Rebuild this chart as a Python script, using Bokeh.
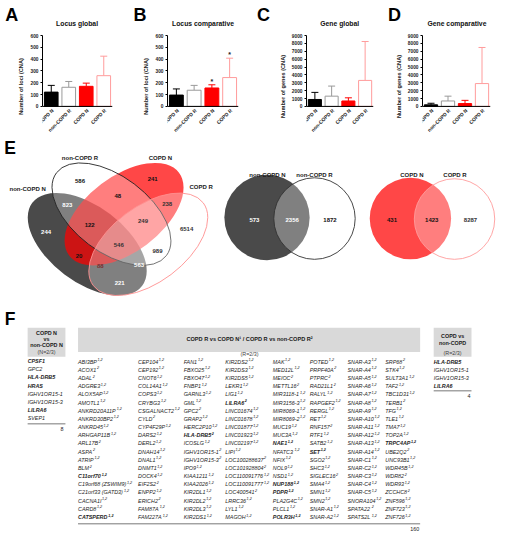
import math
from bokeh.plotting import figure
from bokeh.models import ColumnDataSource, FactorRange, Range1d, FixedTicker, Span
from bokeh.layouts import column, row
from bokeh.core.properties import value, field
from bokeh.embed import file_html
from bokeh.resources import INLINE

FONT = "Liberation Sans"

# ---------------- data: bar panels ----------------
groups = ["non-COPD N", "non-COPD R", "COPD N", "COPD R"]
bar_fill = ["#000000", "#ffffff", "#ff0000", "#ffffff"]
bar_line = ["#000000", "#9a9a9a", "#ff0000", "#ff9c9c"]

panel_letters = ["A", "B", "C", "D"]
panel_titles = ["Locus global", "Locus comparative", "Gene global", "Gene comparative"]

locus_global_mean = [121, 162, 170, 260]
locus_global_upper = [178, 211, 197, 425]
locus_comp_mean = [96, 137, 156, 244]
locus_comp_upper = [148, 178, 183, 408]
locus_comp_star = ["", "", "*", "*"]
gene_global_mean = [880, 1300, 690, 3300]
gene_global_upper = [1780, 2580, 1090, 8240]
gene_comp_mean = [200, 690, 360, 2900]
gene_comp_upper = [400, 1300, 770, 7480]

locus_ticks = [0, 100, 200, 300, 400, 500, 600]
gene_ticks = [0, 1000, 2000, 3000, 4000, 5000, 6000, 7000, 8000, 9000]

# ---------------- data: Venn diagrams ----------------
venn4_sets = ["non-COPD N", "non-COPD R", "COPD N", "COPD R"]
venn4_counts = [244, 586, 241, 6514, 823, 48, 238, 122, 249, 546, 20, 989, 88, 563, 221]
venn_non_sets = ["non-COPD N", "non-COPD R"]
venn_non_counts = [573, 2356, 1872]
venn_copd_sets = ["COPD N", "COPD R"]
venn_copd_counts = [431, 1423, 8287]

# ---------------- data: gene table ----------------
left_title = ["COPD N", "vs", "non-COPD N", "(N=2/3)"]
left_genes = ["CPSF1", "GPC2", "HLA-DRB5", "HRAS", "IGHV1OR15-1", "IGHV1OR15-3", "LILRA6", "SVEP1"]
left_total = "8"
mid_title = ["COPD R vs COPD N\u00b9 / COPD R vs non-COPD R\u00b2", "(R=2/3)"]
mid_total = "160"
right_title = ["COPD vs", "non-COPD", "(R=2/3)"]
right_genes = ["HLA-DRB5", "IGHV1OR15-1", "IGHV1OR15-3", "LILRA6"]
right_total = "4"
bold_genes = ["CPSF1", "HRAS", "HLA-DRB5", "LILRA6", "C11orf70", "CATSPERD", "NAE1",
              "NUP188", "PDPR", "POLR3H", "SET", "TRPC4AP"]

mid_col1 = ["ABI3BP:1,2", "ACOX1:2", "ADAL:2", "ADGRE3:1,2", "ALOX5AP:1,2", "AMOTL1:1,2",
            "ANKRD20A11P:1,2", "ANKRD30BP2:1,2", "ANKRD45:1,2", "ARHGAP11B:1,2", "ARL17B:2",
            "ASPA:2", "ATRIP:1,2", "BLM:2", "C11orf70:1,2", "C19orf68 (ZSWIM9):1,2",
            "C21orf33 (GATD3):1,2", "CACNA1I:1,2", "CARD8:1,2", "CATSPERD:1,2"]
mid_col2 = ["CEP104:1,2", "CEP192:1,2", "CNOT6:1,2", "COL14A1:1,2", "COPS3:1,2", "CRYBG3:1,2",
            "CSGALNACT2:1,2", "CYLD:2", "CYP4F29P:1,2", "DARS2:1,2", "DERL2:1,2", "DNAH14:1,2",
            "DNAL1:1,2", "DNMT1:1,2", "DOCK4:1,2", "EIF2S2:2", "ENPP2:1,2", "ERICH2:2",
            "FAM87A:1,2", "FAM227A:1,2"]
mid_col3 = ["FAN1:1,2", "FBXO25:1,2", "FBXO47:1,2", "FNBP1:1,2", "GARNL3:1,2", "GML:1,2",
            "GPC2:2", "GRAP2:1,2", "HERC2P10:1,2", "HLA-DRB5:2", "ICOSLG:1,2", "IGHV1OR15-1:2",
            "IGHV1OR15-3:2", "IPO9:1,2", "KIAA1211:1,2", "KIAA2026:1,2", "KIR2DL1:1,2",
            "KIR2DL2:1,2", "KIR2DL3:1,2", "KIR2DS1:1,2"]
mid_col4 = ["KIR2DS2:1,2", "KIR2DS3:1,2", "KIR2DS5:1,2", "LEKR1:1,2", "LIG1:1,2", "LILRA6:2",
            "LINC01674:1,2", "LINC01678:1,2", "LINC01877:1,2", "LINC01923:1,2", "LINC02197:1,2",
            "LIPI:1,2", "LOC100288637:2", "LOC101928804:2", "LOC110091776:1,2",
            "LOC110091777:1,2", "LOC400541:2", "LRRC36:1,2", "LYL1:1,2", "MAGOH:1,2"]
mid_col5 = ["MAK:1,2", "MED12L:1,2", "MEIOC:2", "METTL16:2", "MIR3118-1:1,2", "MIR3156-3:1,2",
            "MIR8069-1:1,2", "MIR8069-2:1,2", "MUC19:1,2", "MUC3A:1,2", "NAE1:1,2", "NFATC3:1,2",
            "NFIX:1,2", "NOL9:1,2", "NSD1:1,2", "NUP188:1,2", "PDPR:1,2", "PLA2G4C:1,2",
            "PLCL1:1,2", "POLR3H:1,2"]
mid_col6 = ["POTED:1,2", "PRPF40A:2", "PTPRC:2", "RAD21L1:2", "RALYL:1,2", "RAPGEF2:1,2",
            "RERGL:1,2", "RET:1,2", "RNF157:2", "RTF1:1,2", "SATB2:1,2", "SET:1,2", "SGO2:1,2",
            "SHC3:1,2", "SIGLEC16:2", "SMA4:1,2", "SMN1:1,2", "SMN2:1,2", "SNAR-A1:1,2",
            "SNAR-A2:1,2"]
mid_col7 = ["SNAR-A3:1,2", "SNAR-A4:1,2", "SNAR-A5:1,2", "SNAR-A6:1,2", "SNAR-A7:1,2",
            "SNAR-A8:1,2", "SNAR-A9:1,2", "SNAR-A10:1,2", "SNAR-A11:1,2", "SNAR-A12:1,2",
            "SNAR-A13:1,2", "SNAR-A14:1,2", "SNAR-C1:1,2", "SNAR-C2:1,2", "SNAR-C3:1,2",
            "SNAR-C4:1,2", "SNAR-C5:1,2", "SNORA104:1,2", "SPATA22:2", "SPATS2L:1,2"]
mid_col8 = ["SRP68:2", "STK4:1,2", "SULT3A1:1,2", "TAF2:1,2", "TBC1D31:1,2", "TERB1:2",
            "TFG:1,2", "TLE1:1,2", "TMA7:1,2", "TOP2A:1,2", "TRPC4AP:1,2", "UBE2Q2:2",
            "UNC93B1:1,2", "WDR45B:1,2", "WDR82:2", "WDR93:1,2", "ZCCHC8:2", "ZNF596:1,2",
            "ZNF723:1,2", "ZNF726:1,2"]
mid_cols = [mid_col1, mid_col2, mid_col3, mid_col4, mid_col5, mid_col6, mid_col7, mid_col8]

# ---------------- helpers ----------------
REG = dict(A=667, B=667, C=722, D=722, E=667, F=611, G=778, H=722, I=278, J=500, K=667, L=556,
           M=833, N=722, O=778, P=667, Q=778, R=722, S=667, T=611, U=722, V=667, W=944, X=667,
           Y=667, Z=611, a=556, b=556, c=500, d=556, e=556, f=278, g=556, h=556, i=222, j=222,
           k=500, l=222, m=833, n=556, o=556, p=556, q=556, r=333, s=500, t=278, u=556, v=500,
           w=722, x=500, y=500, z=500)
REG.update({"-": 333, "(": 333, ")": 333, " ": 278, ",": 278})
BOLD = dict(REG)
BOLD.update(dict(A=722, B=722, J=556, K=722, L=611, b=611, c=556, d=611, f=333, g=611, h=611,
                 i=278, j=278, k=556, l=278, m=889, n=611, o=611, p=611, q=611, r=389, s=556,
                 t=333, u=611, v=556, w=778, x=556, y=556))


def text_w(s, fs, bold):
    tab = BOLD if bold else REG
    return sum(tab.get(c, 556) for c in s) / 1000.0 * fs


K = 518.0 / 502.0  # reference pixels per screen pixel


def canvas(h, y0, y1):
    f = figure(width=502, height=h, x_range=Range1d(0, 518), y_range=Range1d(-y1, -y0),
               output_backend="svg", toolbar_location=None, x_axis_location=None,
               y_axis_location=None, min_border=0)
    f.outline_line_color = None
    f.xgrid.visible = False
    f.ygrid.visible = False
    return f


def put_text(f, xs, ys, texts, size, style="normal", color="#222222", align="center",
             baseline="middle"):
    src = ColumnDataSource(dict(x=list(xs), y=[-v for v in ys], t=list(texts)))
    f.text(x="x", y="y", text="t", source=src, text_font=value(FONT),
           text_font_size=value(size), text_font_style=style, text_color=color,
           text_align=align, text_baseline=baseline)


# ---------------- strip with panel letters and titles ----------------
strip = canvas(30, 0, 31)
put_text(strip, [11.5, 144, 271.5, 406.5], [15, 15, 15, 15], panel_letters, "18px", "bold",
         "black")
put_text(strip, [79, 209, 350, 471], [23.5] * 4, panel_titles, "6.8px", "bold", "#111111")

# ---------------- bar panels ----------------
# panel frame spans reference rows 36..141, with the zero line at row 109
BELOW = (141 - 109) / (109 - 36)


def bar_panel(ylabel, mean, upper, ymax, ticks, width, left, right, stars=None):
    p = figure(width=width, height=107, x_range=FactorRange(factors=groups),
               y_range=Range1d(-ymax * BELOW, ymax), output_backend="svg",
               toolbar_location=None, x_axis_location=None, min_border_left=left,
               min_border_right=right, min_border_top=5, min_border_bottom=0)
    p.outline_line_color = None
    p.xgrid.visible = False
    p.ygrid.visible = False
    src = ColumnDataSource(dict(x=groups, top=mean, upper=upper, fill=bar_fill, line=bar_line,
                                star=stars if stars else [""] * 4, zero=[0] * 4))
    p.segment(x0="x", y0="top", x1="x", y1="upper", line_color="line", line_width=1, source=src)
    p.scatter(x="x", y="upper", marker="dash", size=7, line_color="line", line_width=1,
              source=src)
    p.vbar(x="x", top="top", width=0.78, fill_color="fill", line_color="line", line_width=1,
           source=src)
    p.add_layout(Span(location=0, dimension="width", line_color="black", line_width=1))
    if stars:
        p.text(x="x", y="upper", text="star", source=src, text_font=value(FONT),
               text_font_size=value("7px"), text_font_style="bold", text_color="#222222",
               text_align="center", text_baseline="bottom")
    # rotated category labels under the zero line
    p.text(x="x", y="zero", text="x", source=src, angle=math.pi / 4, x_offset=1.5, y_offset=3,
           text_font=value(FONT), text_font_size=value("5px"), text_font_style="bold",
           text_color="#222222", text_align="right", text_baseline="middle")
    ax = p.yaxis[0]
    ax.ticker = FixedTicker(ticks=ticks)
    ax.bounds = (0, ymax)
    ax.axis_label = ylabel
    ax.axis_line_color = "black"
    ax.axis_line_width = 1
    ax.major_tick_line_color = "black"
    ax.major_tick_out = 2
    ax.major_tick_in = 0
    ax.minor_tick_line_color = None
    ax.major_label_text_font = FONT
    ax.major_label_text_font_style = "bold"
    ax.major_label_text_color = "#222222"
    ax.major_label_text_font_size = "4.8px"
    ax.major_label_standoff = 2
    ax.axis_label_text_font = FONT
    ax.axis_label_text_font_size = "5.6px"
    ax.axis_label_text_font_style = "bold"
    ax.axis_label_text_color = "#222222"
    ax.axis_label_standoff = 3
    return p


pA = bar_panel("Number of loci (CNA)", locus_global_mean, locus_global_upper, 600, locus_ticks,
               126, 42, 14)
pB = bar_panel("Number of loci (CNA)", locus_comp_mean, locus_comp_upper, 600, locus_ticks,
               124, 41, 12, stars=locus_comp_star)
pC = bar_panel("Number of genes (CNA)", gene_global_mean, gene_global_upper, 9000, gene_ticks,
               128, 56, 5)
pD = bar_panel("Number of genes (CNA)", gene_comp_mean, gene_comp_upper, 9000, gene_ticks,
               124, 44, 12)

# ---------------- panels E and F (one canvas in reference pixel units) ----------------
q = canvas(397, 141, 550)
put_text(q, [10, 10], [151.5, 328.5], ["E", "F"], "17.5px", "bold", "black")

# 4-set Venn: ellipse layout (centre x, centre y, angle in degrees)
ell_layout = [(89.5, 251, -37), (114.5, 220, -37), (127.5, 220, 37), (152.5, 251, 37)]
ell_fill = ["#404040", "#ffffff", "#ff0000", "#ffffff"]
ell_alpha = [0.95, 0.3, 0.72, 0.3]
ell_line = [None, "#222222", None, "#ff9090"]
draw_order = [0, 2, 1, 3]
for i in draw_order:
    cx, cy, ang = ell_layout[i]
    q.ellipse(x=[cx], y=[-cy], width=142, height=78, angle=math.radians(ang),
              fill_color=ell_fill[i], fill_alpha=ell_alpha[i], line_color=ell_line[i],
              line_width=0.9)

venn4_label_pos = [(28, 194), (82, 162), (165, 162), (207, 192)]
put_text(q, [p[0] for p in venn4_label_pos], [p[1] for p in venn4_label_pos], venn4_sets,
         "6px", "bold", "#1a1a1a")
venn4_pos = [(47, 238), (82, 186), (157, 184), (192, 235), (69, 211), (121, 201), (172, 209),
             (92, 231), (147, 227), (122, 252), (81, 263), (162, 258), (103, 273), (143, 272),
             (123, 291)]
venn4_col = ["#ffffff", "#111111", "#111111", "#333333", "#ffffff", "#111111", "#333333",
             "#111111", "#333333", "#333333", "#111111", "#333333", "#7a3030", "#ffffff",
             "#ffffff"]
src4 = ColumnDataSource(dict(x=[p[0] for p in venn4_pos], y=[-p[1] for p in venn4_pos],
                             t=[str(v) for v in venn4_counts], c=venn4_col))
q.text(x="x", y="y", text="t", source=src4, text_font=value(FONT), text_font_size=value("6px"),
       text_font_style="bold", text_color="c", text_align="center", text_baseline="middle")

# 2-set Venns
circ_layout = [(275, 223.5, 44), (324, 224.5, 42), (423, 224.5, 42), (468.5, 225, 41.5)]
circ_fill = ["#4a4a4a", "#ffffff", "#ff0000", "#ffffff"]
circ_alpha = [1.0, 0.3, 0.72, 0.3]
circ_line = [None, "#333333", None, "#ff9c9c"]
for i in range(4):
    cx, cy, r = circ_layout[i]
    q.ellipse(x=[cx], y=[-cy], width=2 * r, height=2 * r, fill_color=circ_fill[i],
              fill_alpha=circ_alpha[i], line_color=circ_line[i], line_width=0.9)
put_text(q, [275.5, 324, 424.5, 469], [180] * 4, venn_non_sets + venn_copd_sets, "6px", "bold",
         "#1a1a1a")
src2 = ColumnDataSource(dict(x=[262, 301, 340, 404, 445, 485], y=[-226] * 6,
                             t=[str(v) for v in venn_non_counts + venn_copd_counts],
                             c=["#ffffff", "#ffffff", "#111111", "#111111", "#111111", "#333333"]))
q.text(x="x", y="y", text="t", source=src2, text_font=value(FONT), text_font_size=value("6px"),
       text_font_style="bold", text_color="c", text_align="center", text_baseline="middle")

# ---------------- table F ----------------
GFS = 5.4
SFS = 3.7
boxes = [(28, 67, 337, 367), (80, 433, 337, 362), (447, 486, 337, 367)]
q.quad(left=[b[0] for b in boxes], right=[b[1] for b in boxes], top=[-b[2] for b in boxes],
       bottom=[-b[3] for b in boxes], fill_color="#d9d9d9", line_color=None)
rules = [(28, 67, 436), (80, 433, 539), (447, 486, 402)]
q.segment(x0=[r[0] for r in rules], x1=[r[1] for r in rules], y0=[-r[2] for r in rules],
          y1=[-r[2] for r in rules], line_color="#555555", line_width=0.8)

put_text(q, [47.5] * 3, [342, 348.5, 355], left_title[:3], "5.4px", "bold", "#1a1a1a")
put_text(q, [47.5], [362], left_title[3:], "5.4px", "normal", "#444444")
put_text(q, [257], [349], mid_title[:1], "5.6px", "bold", "#1a1a1a")
put_text(q, [257], [364], mid_title[1:], "5.4px", "normal", "#444444")
put_text(q, [466.5] * 2, [345, 353], right_title[:2], "5.4px", "bold", "#1a1a1a")
put_text(q, [466.5], [363], right_title[2:], "5.4px", "normal", "#444444")
put_text(q, [65, 432, 485], [441, 544, 407], [left_total, mid_total, right_total], "5.4px",
         "normal", "#222222", align="right")

gx, gy, gt, gs = [], [], [], []
sx, sy, st, ss = [], [], [], []


def add_gene(x, y, entry):
    name, _, sup = entry.partition(":")
    b = name in bold_genes
    gx.append(x)
    gy.append(-y)
    gt.append(name)
    gs.append("bold italic" if b else "italic")
    if sup:
        sx.append(x + text_w(name, GFS, b) * K + 0.6)
        sy.append(-y + 2.0)
        st.append(sup)
        ss.append("bold italic" if b else "italic")


mid_x = [80, 142, 189, 232, 281, 319, 358, 397]
for ci, col in enumerate(mid_cols):
    for ri, e in enumerate(col):
        add_gene(mid_x[ci], 372 + ri * 8.42, e)
for ri, g in enumerate(left_genes):
    add_gene(28, 371.5 + ri * 8.35, g)
for ri, g in enumerate(right_genes):
    add_gene(447, 372 + ri * 8.5, g)

gsrc = ColumnDataSource(dict(x=gx, y=gy, t=gt, s=gs))
q.text(x="x", y="y", text="t", source=gsrc, text_font=value(FONT),
       text_font_size=value("%.1fpx" % GFS), text_font_style=field("s"), text_color="#1e1e1e",
       text_align="left", text_baseline="middle")
ssrc = ColumnDataSource(dict(x=sx, y=sy, t=st, s=ss))
q.text(x="x", y="y", text="t", source=ssrc, text_font=value(FONT),
       text_font_size=value("%.1fpx" % SFS), text_font_style=field("s"), text_color="#1e1e1e",
       text_align="left", text_baseline="middle")

layout = column(strip, row(pA, pB, pC, pD), q)
open("out.html", "w").write(file_html(layout, INLINE))
